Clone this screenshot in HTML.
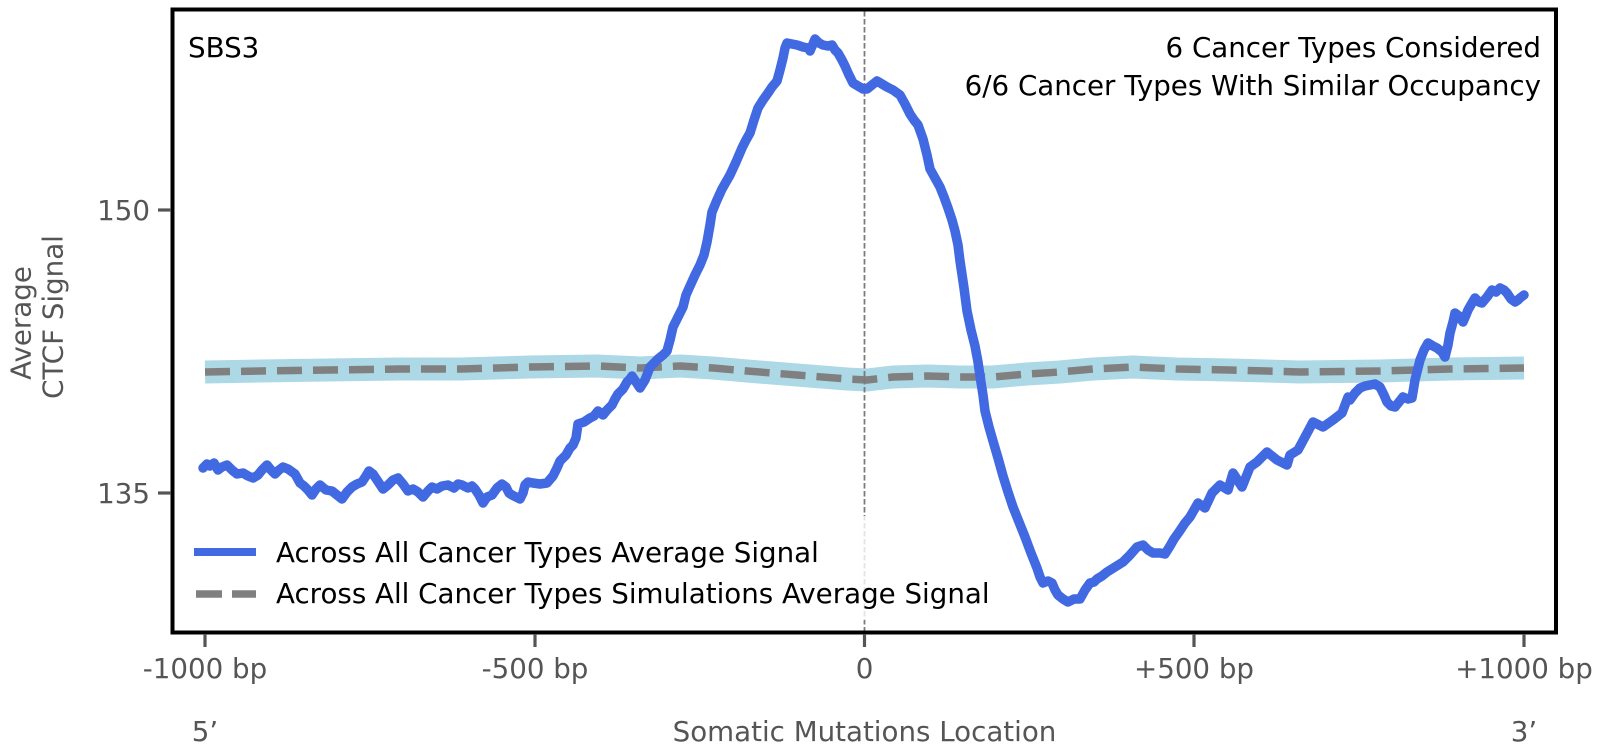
<!DOCTYPE html>
<html>
<head>
<meta charset="utf-8">
<style>
  html, body { margin:0; padding:0; background:#fff; }
  svg { display:block; }
  text { font-family: "DejaVu Sans", "Liberation Sans", sans-serif; font-size:27.7px; }
</style>
</head>
<body>
<svg width="1603" height="756" viewBox="0 0 1603 756" xmlns="http://www.w3.org/2000/svg">
  <rect x="0" y="0" width="1603" height="756" fill="#fff"/>

  <!-- simulation band -->
  <polyline fill="none" stroke="#add8e6" stroke-width="23" stroke-linejoin="round" stroke-linecap="butt"
    points="205,372 260,371 328,370 400,369 462,369 530,367 597,366 640,368 680,366 713,368 747,371 797,375 847,379 867,380 893,377 927,376 960,377 993,377 1027,374 1060,372 1093,369 1133,367 1177,369 1230,370 1300,372 1380,371 1450,369 1524,368"/>
  <!-- simulation dashed line -->
  <polyline fill="none" stroke="#808080" stroke-width="7.5" stroke-dasharray="25,11" stroke-linejoin="round"
    points="205,372 260,371 328,370 400,369 462,369 530,367 597,366 640,368 680,366 713,368 747,371 797,375 847,379 867,380 893,377 927,376 960,377 993,377 1027,374 1060,372 1093,369 1133,367 1177,369 1230,370 1300,372 1380,371 1450,369 1524,368"/>

  <!-- vertical dashed line at 0 -->
  <line x1="864.5" y1="11" x2="864.5" y2="631" stroke="#7a7a7a" stroke-width="1.8" stroke-dasharray="5.5,2.5"/>

  <!-- main signal -->
  <polyline fill="none" stroke="#4169e1" stroke-width="9.5" stroke-linejoin="round" stroke-linecap="round"
    points="203,468 207,464 210,466 214,463 218,470 222,467 227,465 232,470 237,474 243,473 248,476 253,478 258,475 262,470 267,465 271,470 275,474 279,470 283,467 288,469 295,474 300,483 304,486 308,490 312,495 316,489 320,485 326,490 332,491 337,495 342,499 347,492 352,487 357,484 362,482 366,476 369,471 373,474 377,480 383,489 388,485 393,480 398,478 403,484 408,491 413,489 418,492 423,497 428,491 432,487 437,489 442,486 448,485 454,488 458,484 462,485 468,488 472,486 475,489 479,495 483,503 487,497 492,495 497,488 502,484 506,487 509,493 512,495 516,497 520,499 523,493 525,485 528,482 533,483 540,484 547,483 553,476 557,468 560,461 566,455 570,448 573,445 576,438 578,424 584,422 590,418 594,416 598,411 603,415 607,410 612,405 615,399 618,394 623,389 627,382 630,379 632,376 636,382 640,388 645,380 650,367 654,363 658,359 663,355 667,351 670,340 673,327 678,317 683,307 686,295 690,286 695,275 700,265 704,255 707,242 710,225 712,212 717,200 722,189 726,182 730,175 736,162 742,148 746,140 750,133 754,120 758,108 763,100 768,93 772,87 777,81 780,70 783,58 785,48 787,43 792,44 797,45 803,47 808,48 810,51 813,44 815,39 819,43 823,45 828,46 832,45 835,50 838,53 842,60 845,66 849,75 853,83 858,86 863,89 867,89 872,85 877,81 882,84 887,87 893,90 900,95 905,104 910,114 914,120 918,125 923,139 927,155 930,169 935,178 940,187 944,197 948,208 952,220 955,231 958,245 960,261 964,288 967,311 971,330 975,346 978,362 980,376 983,395 985,411 989,427 993,441 998,458 1003,476 1008,492 1013,507 1019,522 1025,537 1031,553 1037,568 1040,577 1043,583 1048,581 1052,583 1055,590 1058,595 1063,599 1068,602 1074,599 1080,599 1085,590 1090,583 1094,582 1097,579 1102,576 1107,572 1115,567 1123,562 1130,555 1137,547 1143,545 1148,550 1153,553 1160,553 1165,554 1170,546 1174,539 1179,532 1185,523 1190,517 1198,503 1205,508 1212,493 1220,485 1228,490 1233,473 1242,487 1250,467 1257,462 1267,452 1277,460 1287,465 1290,455 1298,450 1305,437 1313,422 1323,427 1333,420 1342,413 1348,397 1350,400 1355,393 1360,388 1365,386 1370,385 1375,384 1380,387 1384,395 1387,402 1391,406 1395,407 1399,402 1403,397 1408,399 1412,398 1415,380 1418,368 1420,360 1424,350 1428,343 1433,346 1437,348 1442,352 1445,357 1448,345 1450,333 1453,322 1455,313 1459,316 1463,322 1466,315 1468,310 1472,303 1475,298 1479,302 1482,303 1487,297 1492,290 1496,292 1500,288 1504,290 1507,293 1511,299 1515,302 1518,300 1520,298 1524,295"/>

  <!-- legend background -->
  <rect x="183" y="516" width="826" height="104" rx="4" fill="#fff" fill-opacity="0.8"/>
  <line x1="194" y1="552" x2="256" y2="552" stroke="#4169e1" stroke-width="8"/>
  <line x1="196" y1="594" x2="256" y2="594" stroke="#808080" stroke-width="7.5" stroke-dasharray="26,10"/>
  <text x="276" y="562" fill="#000">Across All Cancer Types Average Signal</text>
  <text x="276" y="603" fill="#000">Across All Cancer Types Simulations Average Signal</text>

  <!-- frame -->
  <rect x="172.5" y="9.5" width="1383.5" height="623" fill="none" stroke="#000" stroke-width="4"/>

  <!-- annotations -->
  <text x="188" y="57" fill="#000">SBS3</text>
  <text x="1541" y="57" fill="#000" text-anchor="end">6 Cancer Types Considered</text>
  <text x="1541" y="95" fill="#000" text-anchor="end">6/6 Cancer Types With Similar Occupancy</text>

  <!-- y ticks -->
  <line x1="158" y1="210" x2="171" y2="210" stroke="#555" stroke-width="3.2"/>
  <line x1="158" y1="493" x2="171" y2="493" stroke="#555" stroke-width="3.2"/>
  <text x="150" y="220" fill="#555" text-anchor="end">150</text>
  <text x="150" y="503" fill="#555" text-anchor="end">135</text>

  <!-- x ticks -->
  <g stroke="#555" stroke-width="3.2">
    <line x1="205" y1="634" x2="205" y2="647"/>
    <line x1="535" y1="634" x2="535" y2="647"/>
    <line x1="864.5" y1="634" x2="864.5" y2="647"/>
    <line x1="1194" y1="634" x2="1194" y2="647"/>
    <line x1="1524" y1="634" x2="1524" y2="647"/>
  </g>
  <g fill="#555" text-anchor="middle">
    <text x="205" y="678">-1000 bp</text>
    <text x="535" y="678">-500 bp</text>
    <text x="864.5" y="678">0</text>
    <text x="1194" y="678">+500 bp</text>
    <text x="1524" y="678">+1000 bp</text>
    <text x="205" y="741">5’</text>
    <text x="864.5" y="741">Somatic Mutations Location</text>
    <text x="1524" y="741">3’</text>
  </g>

  <!-- y label -->
  <text transform="translate(30.5,323) rotate(-90)" fill="#555" text-anchor="middle">Average</text>
  <text transform="translate(62.5,317) rotate(-90)" fill="#555" text-anchor="middle">CTCF Signal</text>
</svg>
</body>
</html>
